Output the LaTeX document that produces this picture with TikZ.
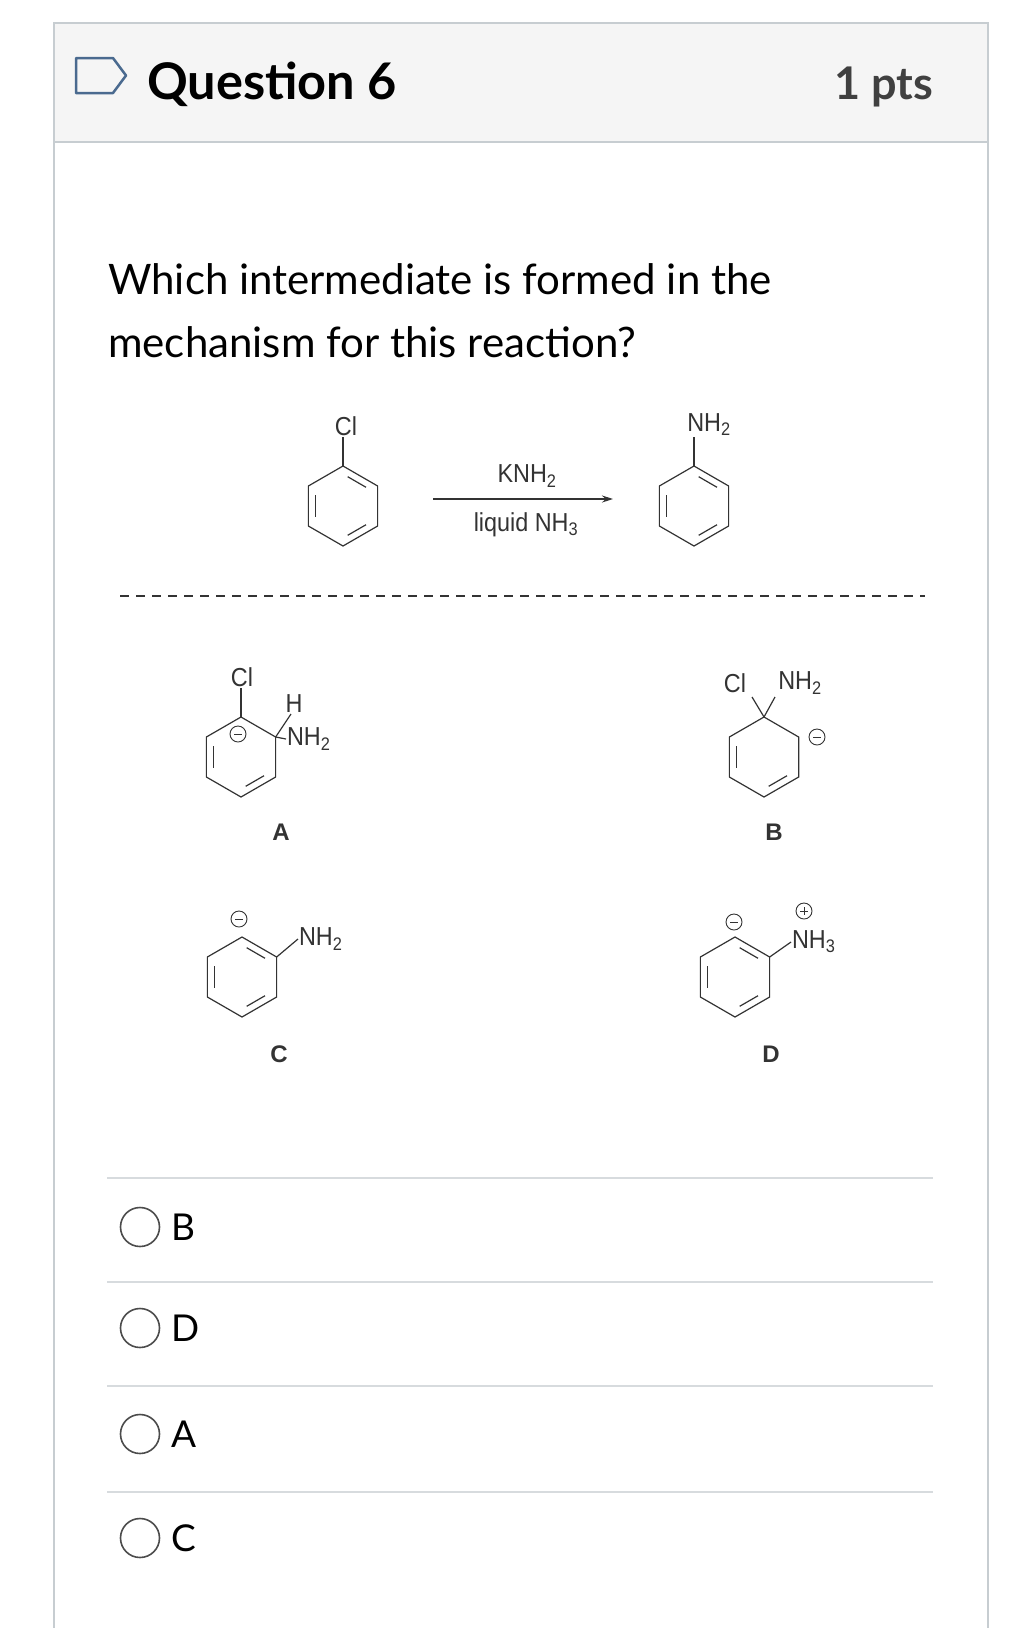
\documentclass[tikz,border=0pt]{standalone}
\usepackage{fontspec}
\setmainfont{Lato}
\newfontfamily\chem{Liberation Sans}
\usetikzlibrary{calc,arrows.meta}
\definecolor{hdr}{HTML}{F5F5F5}
\definecolor{brd}{HTML}{C7CDD1}
\definecolor{icon}{HTML}{4A6A8F}
\definecolor{sep}{HTML}{D7DBDE}
\definecolor{bond}{HTML}{333333}
\tikzset{
  lbl/.style={font=\chem\fontsize{26}{26}\selectfont, inner sep=1pt, text=bond, xscale=0.9},
  letter/.style={font=\chem\bfseries\fontsize{24}{24}\selectfont, text=bond},
  chg/.style={circle, draw=bond, line width=0.9pt, minimum size=16pt, inner sep=0pt},
  bnd/.style={draw=bond, line width=1.2pt},
  radio/.style={circle, draw=black!70, line width=1.6pt, minimum size=39pt, inner sep=0pt},
  opt/.style={font=\fontsize{37}{37}\selectfont, anchor=west},
  qtext/.style={anchor=base west, font=\fontsize{42}{42}\selectfont, inner sep=0},
}
\newcommand{\hexring}[2]{%
  \foreach \a/\i in {90/1,30/2,-30/3,-90/4,-150/5,150/6}
    \coordinate (#1-\i) at ($(#2)+(\a:40)$);
  \coordinate (#1-c) at (#2);
  \draw[bnd] (#1-1)--(#1-2)--(#1-3)--(#1-4)--(#1-5)--(#1-6)--cycle;}
\newcommand{\dbl}[3]{%
  \draw[bnd] ($(#1-c)!0.8!($(#1-#2)!0.17!(#1-#3)$)$) -- ($(#1-c)!0.8!($(#1-#2)!0.83!(#1-#3)$)$);}
\newcommand{\minus}[2]{\node[chg] (#1) at (#2) {}; \draw[bond, line width=0.9pt] ($(#1)+(-4,0)$) -- ($(#1)+(4,0)$);}
\begin{document}
\begin{tikzpicture}[x=1pt,y=1pt]
\useasboundingbox (0,0) rectangle (1013,-1628);
\fill[white] (0,0) rectangle (1013,-1628);
% frame
\fill[hdr] (54,-23) rectangle (988,-142);
\draw[brd, line width=1.5pt] (54,-1628) -- (54,-23) -- (988,-23) -- (988,-1628);
\draw[brd, line width=1.5pt] (54,-142) -- (988,-142);
\draw[icon, line width=2.5pt, line join=round] (76,-58) -- (113,-58) -- (126,-75.5) -- (113,-93) -- (76,-93) -- cycle;
\node[anchor=base west, font=\bfseries\fontsize{50.5}{50}\selectfont, inner sep=0] (title) at (147,-99) {Question 6};
\node[anchor=base east, font=\bfseries\fontsize{45}{46}\selectfont, text=black!75, inner sep=0] (pts) at (933,-99) {1 pts};
\node[qtext] (q1) at (108,-294) {Which intermediate is formed in the};
\node[qtext] (q2) at (108,-357) {mechanism for this reaction?};
% reaction
\hexring{R}{343,-506}
\dbl{R}{1}{2}\dbl{R}{3}{4}\dbl{R}{5}{6}
\node[lbl, anchor=south] (Rcl) at (346,-437) {Cl};
\draw[bnd] (R-1) -- (Rcl.south -| R-1);
\node[lbl, anchor=south] (Pn) at (709,-437) {NH\textsubscript{2}};
\hexring{P}{694,-506}
\dbl{P}{1}{2}\dbl{P}{3}{4}\dbl{P}{5}{6}
\draw[bnd] (P-1) -- (Pn.south -| P-1);
\coordinate (ar1) at (433,-499);
\coordinate (ar2) at (613,-499);
\draw[bnd, -{Stealth[length=11pt,width=7pt]}] (ar1) -- (ar2);
\node[lbl] (knh) at (527,-476) {KNH\textsubscript{2}};
\node[lbl] (liq) at (526,-525) {liquid NH\textsubscript{3}};
\draw[black!80, line width=1.5pt, dash pattern=on 9pt off 7pt] (120,-596) -- (925,-596);
% A
\hexring{A}{241,-757}
\dbl{A}{5}{6}\dbl{A}{3}{4}
\node[lbl, anchor=south] (Acl) at (242,-688) {Cl};
\draw[bnd] (A-1) -- (Acl.south -| A-1);
\node[lbl, anchor=south] (Ah) at (294,-714) {H};
\draw[bnd] (A-2) -- ($(Ah.south)+(-3,0)$);
\node[lbl, anchor=west] (Anh) at (286,-739) {NH\textsubscript{2}};
\draw[bnd] (A-2) -- (Anh.west);
\minus{Am}{238,-734}
\node[letter] (La) at (281,-832) {A};
% B
\hexring{B}{764,-757}
\dbl{B}{5}{6}\dbl{B}{3}{4}
\node[lbl] (Bcl) at (735,-683) {Cl};
\node[lbl] (Bnh) at (800,-683) {NH\textsubscript{2}};
\draw[bnd] (B-1) -- (752,-697);
\draw[bnd] (B-1) -- (775,-697);
\minus{Bm}{817,-737}
\node[letter] (Lb) at (774,-832) {B};
% C
\hexring{C}{242,-977}
\dbl{C}{1}{2}\dbl{C}{5}{6}\dbl{C}{3}{4}
\node[lbl, anchor=west] (Cnh) at (298,-939) {NH\textsubscript{2}};
\draw[bnd] (C-2) -- (Cnh.west);
\minus{Cm}{239,-919}
\node[letter] (Lc) at (279,-1054) {C};
% D
\hexring{D}{735,-977}
\dbl{D}{1}{2}\dbl{D}{5}{6}\dbl{D}{3}{4}
\node[lbl, anchor=west] (Dnh) at (791,-942) {NH\textsubscript{3}};
\draw[bnd] (D-2) -- (Dnh.west);
\minus{Dm}{734,-922}
\node[chg] (Dp) at (804,-911) {};
\draw[bond, line width=0.9pt] (800,-911) -- (808,-911) (804,-907) -- (804,-915);
\node[letter] (Ld) at (771,-1054) {D};
% options
\foreach \y in {1178,1282,1386,1492} \draw[sep, line width=1.2pt] (107,-\y) -- (933,-\y);
\foreach \n/\y/\t in {o1/1227/B,o2/1328/D,o3/1434/A,o4/1538/C}{
  \node[radio] (\n) at (140,-\y) {};
  \node[opt] (\n t) at (168,-\y) {\t};
}
\end{tikzpicture}
\end{document}
